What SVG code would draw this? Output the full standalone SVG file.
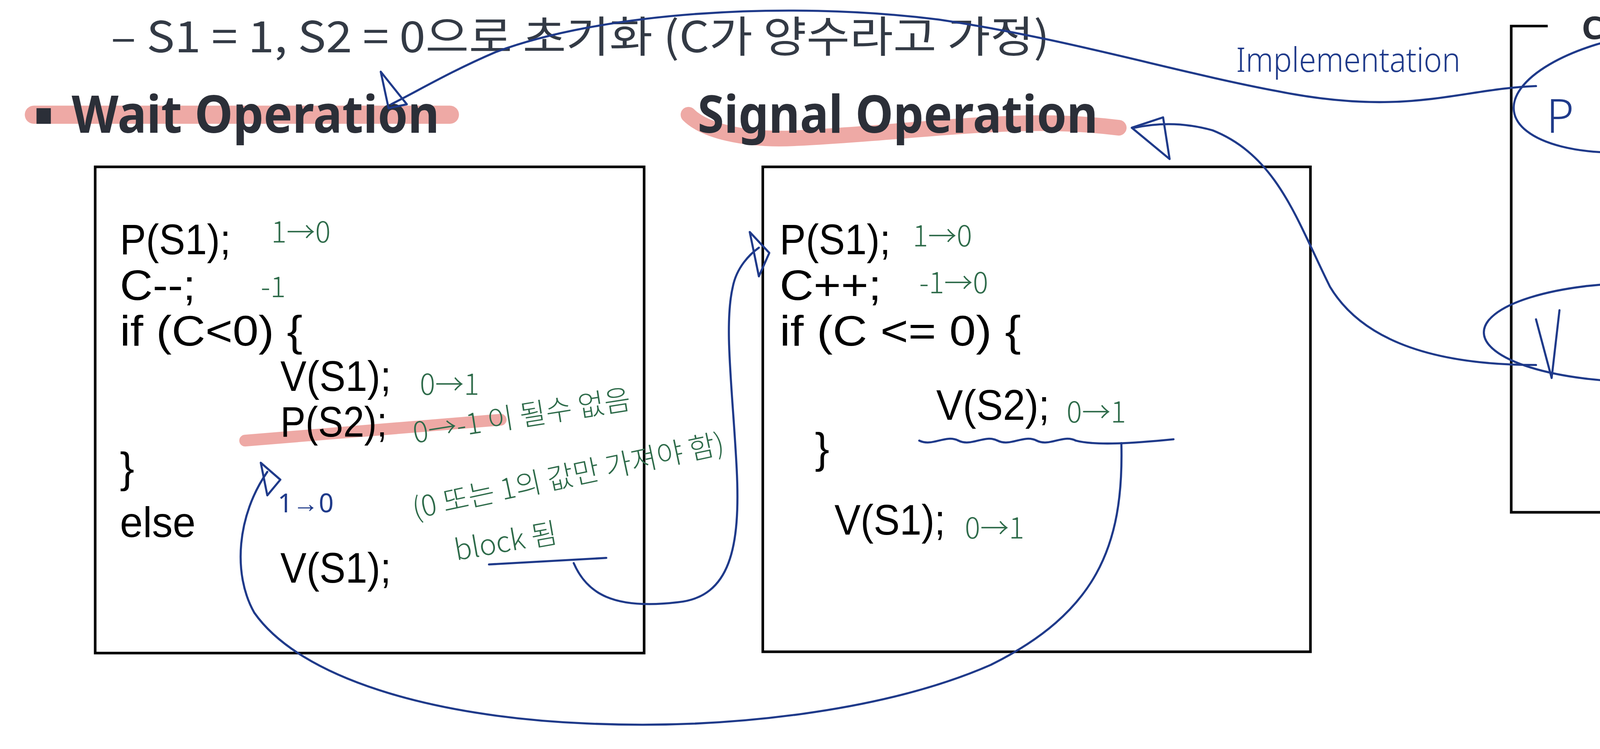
<svg xmlns="http://www.w3.org/2000/svg" width="5234" height="1918" viewBox="0 0 5234 1918">
<style>
.t{font-family:"Noto Sans CJK KR","Noto Sans",sans-serif;fill:#333a45}
.h{font-family:"Noto Sans","Noto Sans CJK KR",sans-serif;font-weight:bold;fill:#2b2f38;font-size:40px}
.c{font-family:"Liberation Sans","Noto Sans CJK KR",sans-serif;font-size:33px;fill:#000}
.s{font-family:"Liberation Serif",serif;font-size:34px;fill:#000}
.g{font-family:"Noto Sans CJK KR",sans-serif;font-size:22px;fill:#2e6b4a;font-weight:300}
.b{fill:none;stroke:#1f3a8a;stroke-width:1.6;stroke-linecap:round;stroke-linejoin:round}
.box{fill:none;stroke:#000;stroke-width:2}
.hl{fill:none;stroke:#eea9a5;stroke-linecap:round}
</style>
<rect width="5234" height="1918" fill="#fff"/>
<g transform="scale(3.338)">
<g id="highlights">
<path class="hl" d="M26 88 L345 88" stroke-width="14"/>
<path class="hl" d="M528 88 C540 100 570 108 610 106 C700 102 780 88 858 98" stroke-width="12"/>
<path class="hl" d="M188 338 L384 322" stroke-width="9"/>
</g>
<g id="title"><text class="t" x="85" y="40" font-size="33" textLength="720" lengthAdjust="spacingAndGlyphs">– S1 = 1, S2 = 0으로 초기화 (C가 양수라고 가정)</text></g>
<g id="wait-op">
<rect x="28" y="83" width="11" height="12" fill="#2b2f38"/>
<text class="h" x="55" y="102" textLength="282" lengthAdjust="spacingAndGlyphs">Wait Operation</text>
<rect class="box" x="73" y="128" width="421" height="373"/>
<text class="c" x="92" y="195" textLength="85" lengthAdjust="spacingAndGlyphs">P(S1);</text>
<text class="c" x="92" y="230" textLength="58" lengthAdjust="spacingAndGlyphs">C--;</text>
<text class="c" x="92" y="265" textLength="140" lengthAdjust="spacingAndGlyphs">if (C&lt;0) {</text>
<text class="c" x="215" y="300" textLength="85" lengthAdjust="spacingAndGlyphs">V(S1);</text>
<text class="c" x="215" y="335" textLength="82" lengthAdjust="spacingAndGlyphs">P(S2);</text>
<text class="c" x="92" y="370">}</text>
<text class="c" x="92" y="412" textLength="58" lengthAdjust="spacingAndGlyphs">else</text>
<text class="c" x="215" y="447" textLength="85" lengthAdjust="spacingAndGlyphs">V(S1);</text>
</g>
<g id="signal-op">
<text class="h" x="535" y="102" textLength="307" lengthAdjust="spacingAndGlyphs">Signal Operation</text>
<rect class="box" x="585" y="128" width="420" height="372"/>
<text class="c" x="598" y="195" textLength="85" lengthAdjust="spacingAndGlyphs">P(S1);</text>
<text class="c" x="598" y="230" textLength="78" lengthAdjust="spacingAndGlyphs">C++;</text>
<text class="c" x="598" y="265" textLength="185" lengthAdjust="spacingAndGlyphs">if (C &lt;= 0) {</text>
<text class="c" x="718" y="322" textLength="87" lengthAdjust="spacingAndGlyphs">V(S2);</text>
<text class="c" x="625" y="355">}</text>
<text class="c" x="640" y="410" textLength="85" lengthAdjust="spacingAndGlyphs">V(S1);</text>
</g>
<g id="counting-semaphore">
<path class="box" d="M1187 20 H1159 V393 H1531 V20 H1505"/>
<text x="1213" y="30" font-family="'Noto Sans',sans-serif" font-weight="bold" font-size="24" fill="#2b2f38" textLength="264" lengthAdjust="spacingAndGlyphs">Counting Semaphore</text>
<text class="s" x="1263" y="82" font-weight="bold" textLength="104" lengthAdjust="spacingAndGlyphs">Wait();</text>
<text class="s" x="1257" y="165" font-weight="bold" textLength="110" lengthAdjust="spacingAndGlyphs">Critical</text>
<text class="s" x="1260" y="203" font-weight="bold" textLength="103" lengthAdjust="spacingAndGlyphs">Section</text>
<text class="s" x="1260" y="268" font-weight="bold" textLength="122" lengthAdjust="spacingAndGlyphs">Signal();</text>
<text class="s" x="1258" y="360" textLength="147" lengthAdjust="spacingAndGlyphs">Remainder</text>
<path d="M1398 120 V200" stroke="#000" stroke-width="1.5"/>
<path d="M1394 198 L1398 211 L1402 198 Z" fill="#000"/>
</g>
<g id="annotations">
<text class="g" x="208" y="186" font-size="24">1→0</text>
<text class="g" x="200" y="228">-1</text>
<text class="g" x="322" y="303">0→1</text>
<text class="g" x="318" y="340" transform="rotate(-9 318 340)">0→-1 이 될수 없음</text>
<text class="g" x="318" y="398" font-size="19" transform="rotate(-12 318 398)">(0 또는 1의 값만 가져야 함)</text>
<text class="g" x="350" y="430" font-size="20" transform="rotate(-10 350 430)">block 됨</text>
<text class="g" x="700" y="189">1→0</text>
<text class="g" x="705" y="225">-1→0</text>
<text class="g" x="818" y="324" font-size="28">0→1</text>
<text class="g" x="740" y="413" font-size="25">0→1</text>
<text x="213" y="393" font-family="'Noto Sans',sans-serif" font-size="20" fill="#1f3a8a">1→0</text>
<text x="948" y="55" font-family="'Noto Sans',sans-serif" font-size="26" font-weight="300" fill="#1f3a8a" textLength="172" lengthAdjust="spacingAndGlyphs">Implementation</text>
<text x="1186" y="102" font-family="'Noto Sans',sans-serif" font-size="36" font-weight="300" fill="#1f3a8a">P</text>
<path class="b" d="M1178 245 L1190 290 L1196 238"/>
</g>
<g id="connectors">
<path class="b" d="M1178 66 C1120 68 1080 90 980 70 C900 55 820 30 720 15 C600 0 460 10 380 40 C345 55 320 70 300 80"/>
<path class="b" d="M292 55 L298 83 L312 80 Z"/>
<path class="b" d="M1178 280 C1120 280 1050 270 1020 220 C995 170 980 120 930 100 C905 93 885 95 870 98"/>
<path class="b" d="M868 98 L892 90 L897 122 Z"/>
<path class="b" d="M440 432 C450 455 470 468 520 462 C560 458 568 420 565 360 C562 300 555 250 562 220 C565 205 575 195 582 190"/>
<path class="b" d="M575 178 L590 194 L582 212 Z"/>
<path class="b" d="M860 340 C862 420 840 470 760 510 C680 545 560 560 450 555 C330 550 230 520 195 470 C178 440 182 395 205 362"/>
<path class="b" d="M200 355 L215 368 L205 380 Z"/>
<ellipse class="b" cx="1270" cy="70" rx="110" ry="45" transform="rotate(-8 1270 70)"/>
<ellipse class="b" cx="1260" cy="255" rx="122" ry="38"/>
<path class="b" d="M1240 112 C1300 100 1340 90 1378 75"/>
<path class="b" d="M1250 290 C1300 290 1350 280 1380 265"/>
<path class="b" d="M705 338 C715 343 725 333 735 338 C745 343 755 333 765 338 C775 343 785 333 795 338 C805 343 815 333 825 338 C840 342 870 340 900 337"/>
<path class="b" d="M375 433 L465 428"/>
</g>
</g>
</svg>
